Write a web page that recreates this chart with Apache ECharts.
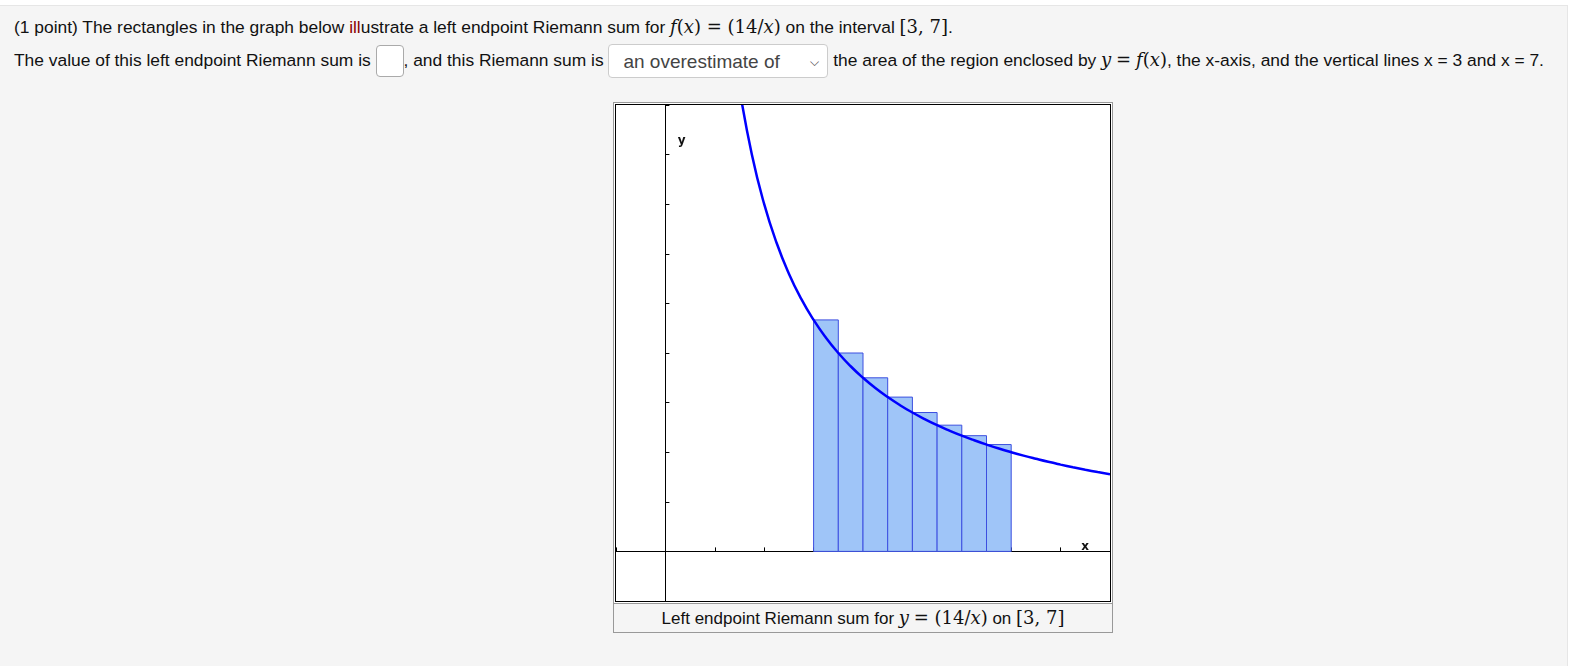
<!DOCTYPE html>
<html>
<head>
<meta charset="utf-8">
<script src="https://cdn.jsdelivr.net/npm/echarts@6/dist/echarts.min.js"></script>
<style>
  body { margin: 0; background: #fff; font-family: Arial, "Liberation Sans", sans-serif; }
  #page { position: absolute; left: 0; top: 5px; width: 1567px; height: 661px; background: #f5f5f5; border-top: 1px solid #e6e6e6; border-right: 1px solid #e6e6e6; }
  .ln { position: absolute; left: 14px; font-size: 17.4px; color: #111; white-space: nowrap; }
  .m { font-family: "DejaVu Serif", "Liberation Serif", serif; font-style: italic; font-size: 18px; }
  .r { font-family: "DejaVu Serif", "Liberation Serif", serif; font-size: 18px; }
  .ans { display: inline-block; width: 26px; height: 30px; border: 1px solid #aaa; border-radius: 4px; background: #fff; vertical-align: middle; }
  .sel { display: inline-block; width: 220px; height: 34px; border: 1px solid #ccc; border-radius: 4px; background: #fff; vertical-align: middle; font-size: 19px; color: #444; line-height: 34px; padding-left: 14px; box-sizing: border-box; position: relative; }
  .sel:after { content: "\2335"; position: absolute; right: 8px; top: 0; font-size: 12px; }
  #box { position: absolute; left: 613px; top: 102px; width: 498px; height: 500px; border: 1px solid #999; background: #fff; }
  #chart { position: absolute; left: 1px; top: 1px; width: 494px; height: 496px; border: 1px solid #000; }
  #cap { position: absolute; left: 613px; top: 603px; width: 498px; height: 28px; border: 1px solid #999; background: #f5f5f5; text-align: center; font-size: 17px; line-height: 28px; color: #111; }
</style>
</head>
<body>
<div id="page"></div>
<div class="ln" style="top:16px">(1 point) The rectangles in the graph below <span style="color:#8b0000">ill</span>ustrate a left endpoint Riemann sum for <span class="m">f</span><span class="r">(</span><span class="m">x</span><span class="r">) = (14/</span><span class="m">x</span><span class="r">)</span> on the interval <span class="r">[3, 7]</span>.</div>
<div class="ln" style="top:44px">The value of this left endpoint Riemann sum is <span class="ans"></span>, and this Riemann sum is <span class="sel">an overestimate of</span> the area of the region enclosed by <span class="m">y</span> <span class="r">=</span> <span class="m">f</span><span class="r">(</span><span class="m">x</span><span class="r">)</span>, the x-axis, and the vertical lines x = 3 and x = 7.</div>
<div id="box"><div id="chart"></div></div>
<div id="cap">Left endpoint Riemann sum for <span class="m">y</span> <span class="r">= (14/</span><span class="m">x</span><span class="r">)</span> on <span class="r">[3, 7]</span></div>
<script>
// left endpoints and heights of the rectangles
var rectX = [3, 3.5, 4, 4.5, 5, 5.5, 6, 6.5];
var rectH = [4.667, 4, 3.5, 3.111, 2.8, 2.545, 2.333, 2.154];
var rectW = 0.5;
// curve points
var curveX = [1.5, 1.75, 2, 2.25, 2.5, 2.75, 3, 3.25, 3.5, 3.75, 4, 4.25, 4.5, 4.75, 5, 5.25, 5.5, 5.75, 6, 6.25, 6.5, 6.75, 7, 7.25, 7.5, 7.75, 8, 8.25, 8.5, 8.75, 9];
var curveY = [9.333, 8, 7, 6.222, 5.6, 5.091, 4.667, 4.308, 4, 3.733, 3.5, 3.294, 3.111, 2.947, 2.8, 2.667, 2.545, 2.435, 2.333, 2.24, 2.154, 2.074, 2, 1.931, 1.867, 1.806, 1.75, 1.697, 1.647, 1.6, 1.556];

var chart = echarts.init(document.getElementById('chart'));
var lbl = function (v) { return (v >= 1 && v <= 8) ? String(v) : ''; };
var rects = rectX.map(function (x, i) { return [x, rectH[i]]; });
var curve = curveX.map(function (x, i) { return [x, curveY[i]]; });

chart.setOption({
  animation: false,
  grid: { left: 0, right: 0, top: 0, bottom: 0, containLabel: false, outerBoundsMode: 'none' },
  xAxis: {
    type: 'value', min: -1, max: 9, interval: 1,
    splitLine: { show: false },
    axisLine: { onZero: true, lineStyle: { color: '#000', width: 1 } },
    axisTick: { inside: true, length: 4, lineStyle: { color: '#000' } },
    axisLabel: { formatter: lbl, margin: 20, color: '#111', fontWeight: 'bold', fontSize: 12, fontFamily: 'DejaVu Sans' }
  },
  yAxis: {
    type: 'value', min: -1, max: 9, interval: 1,
    splitLine: { show: false },
    axisLine: { onZero: true, lineStyle: { color: '#000', width: 1 } },
    axisTick: { inside: true, length: 4, lineStyle: { color: '#000' } },
    axisLabel: { formatter: lbl, margin: 22, color: '#111', fontWeight: 'bold', fontSize: 12, fontFamily: 'DejaVu Sans' }
  },
  series: [
    {
      type: 'custom',
      data: rects,
      renderItem: function (params, api) {
        var p0 = api.coord([api.value(0), api.value(1)]);
        var p1 = api.coord([api.value(0) + rectW, 0]);
        return {
          type: 'rect',
          shape: { x: p0[0], y: p0[1], width: p1[0] - p0[0], height: p1[1] - p0[1] },
          style: { fill: '#9fc5f8', stroke: '#3c4fe0', lineWidth: 1 }
        };
      },
      z: 2
    },
    {
      type: 'line',
      data: curve,
      smooth: true,
      showSymbol: false,
      clip: true,
      lineStyle: { color: '#0000ff', width: 2.5 },
      z: 3
    }
  ]
});

var px = chart.convertToPixel('grid', [0.25, 8.4]);
var qx = chart.convertToPixel('grid', [8.42, 0.22]);
chart.setOption({
  graphic: [
    { type: 'text', left: px[0], top: px[1], style: { text: 'y', font: 'bold 12px DejaVu Sans', fill: '#111' } },
    { type: 'text', left: qx[0], top: qx[1], style: { text: 'x', font: 'bold 12px DejaVu Sans', fill: '#111' } }
  ]
});
</script>
</body>
</html>
